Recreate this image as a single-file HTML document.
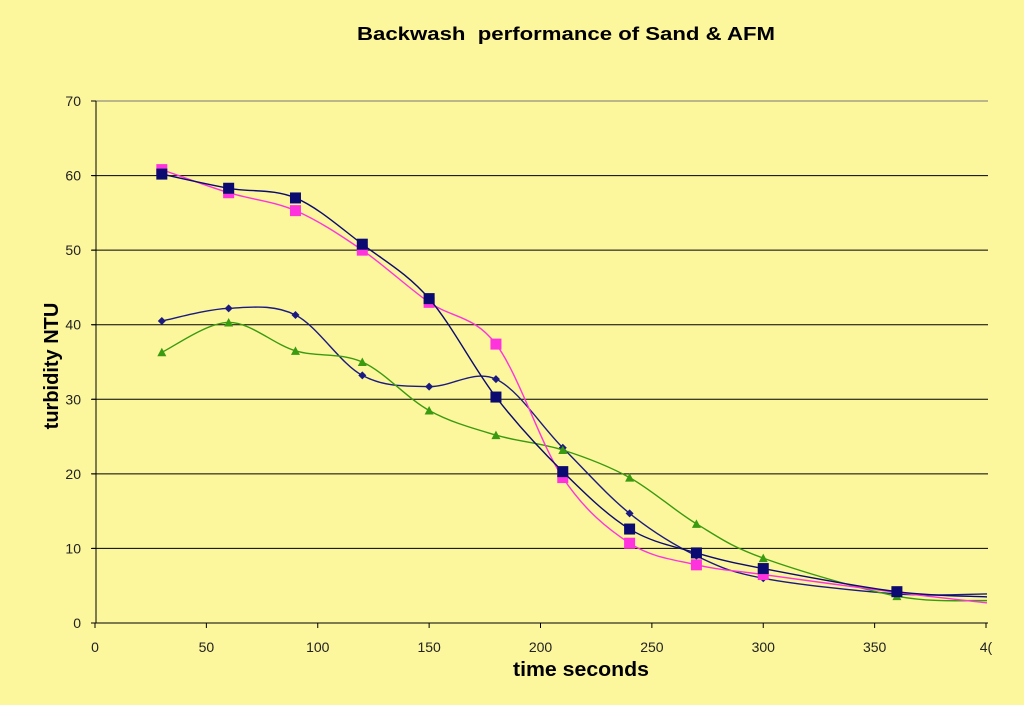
<!DOCTYPE html>
<html><head><meta charset="utf-8"><style>
html,body{margin:0;padding:0;background:#fcf69c;}
svg{display:block;font-family:"Liberation Sans",Arial,sans-serif;}
</style></head><body>
<svg id="c" width="1024" height="705" viewBox="0 0 1024 705" xmlns="http://www.w3.org/2000/svg">
<rect width="1024" height="705" fill="#fcf69c"/>
<text x="357" y="40" font-size="18" font-weight="bold" textLength="418" lengthAdjust="spacingAndGlyphs" fill="#000" xml:space="preserve">Backwash  performance of Sand &amp; AFM</text>
<g id="grid"></g>
<g id="series"></g>
<text x="513" y="676" font-size="20" font-weight="bold" textLength="136" lengthAdjust="spacingAndGlyphs">time seconds</text>
<text transform="translate(58,366) rotate(-90)" font-size="20" font-weight="bold" text-anchor="middle">turbidity NTU</text>
</svg>
<script>
var NS="http://www.w3.org/2000/svg";
function X(v){return 95+v*2.2275;}
function Y(v){return 623-v*7.457;}
var g=document.getElementById('grid'),s=document.getElementById('series');
function el(p,t,a){var e=document.createElementNS(NS,t);for(var k in a)e.setAttribute(k,a[k]);p.appendChild(e);return e;}
for(var i=0;i<=70;i+=10){var y=Y(i);
 if(i>0)el(g,'line',{x1:92,x2:988,y1:y,y2:y,stroke:i==70?'#777':'#000','stroke-width':1});
 el(g,'line',{x1:91,x2:96,y1:y,y2:y,stroke:'#000'});
 var t=el(g,'text',{x:81,y:y+5,'font-size':14,'text-anchor':'end',fill:'#222'});t.textContent=i;}
el(g,'line',{x1:96,x2:96,y1:101,y2:623,stroke:'#000'});
el(g,'line',{x1:96,x2:988,y1:623,y2:623,stroke:'#000'});
for(var v=0;v<=400;v+=50){var x=X(v);
 el(g,'line',{x1:x,x2:x,y1:623,y2:628,stroke:'#000'});
 var t=el(g,'text',{x:x,y:652,'font-size':14,'text-anchor':'middle',fill:'#222'});t.textContent=v==400?'4(':v;}
var xs=[30,60,90,120,150,180,210,240,270,300,360,400];
var S=[
 {c:'#1a1a80',m:'d',d:[40.5,42.2,41.3,33.2,31.7,32.7,23.5,14.7,9,6,3.9,3.9]},
 {c:'#3a9a10',m:'t',d:[36.3,40.3,36.5,35,28.5,25.2,23.2,19.5,13.3,8.7,3.6,3.0]},
 {c:'#ff33dd',m:'s',d:[60.8,57.7,55.3,50,43,37.4,19.5,10.7,7.8,6.5,4.1,2.7]},
 {c:'#0a0a70',m:'S',d:[60.2,58.3,57,50.8,43.5,30.3,20.3,12.6,9.4,7.3,4.2,3.5]}
];
S.forEach(function(se){
 var P=xs.map(function(x,i){return [X(x),Y(se.d[i])];});
 P[P.length-1][0]=987;
 var d='M'+P[0][0]+' '+P[0][1];
 for(var i=0;i<P.length-1;i++){
  var p0=P[i-1]||P[i],p1=P[i],p2=P[i+1],p3=P[i+2]||P[i+1];
  var c1=[p1[0]+(p2[0]-p0[0])/6,p1[1]+(p2[1]-p0[1])/6],c2=[p2[0]-(p3[0]-p1[0])/6,p2[1]-(p3[1]-p1[1])/6];
  d+=' C'+c1+' '+c2+' '+p2;}
 el(s,'path',{d:d,fill:'none',stroke:se.c,'stroke-width':1.4});
 P.slice(0,11).forEach(function(p,i){
  if(i==10&&se.m!='S'&&se.m!='t')return;
  var x=p[0],y=p[1];
  if(se.m=='d')el(s,'polygon',{points:(x-4)+','+y+' '+x+','+(y-4)+' '+(x+4)+','+y+' '+x+','+(y+4),fill:se.c});
  else if(se.m=='t')el(s,'polygon',{points:(x-4.5)+','+(y+4)+' '+x+','+(y-4.5)+' '+(x+4.5)+','+(y+4),fill:se.c});
  else {var r=5.5;el(s,'rect',{x:x-r,y:y-r,width:2*r,height:2*r,fill:se.c});}
 });
});
</script>
</body></html>
